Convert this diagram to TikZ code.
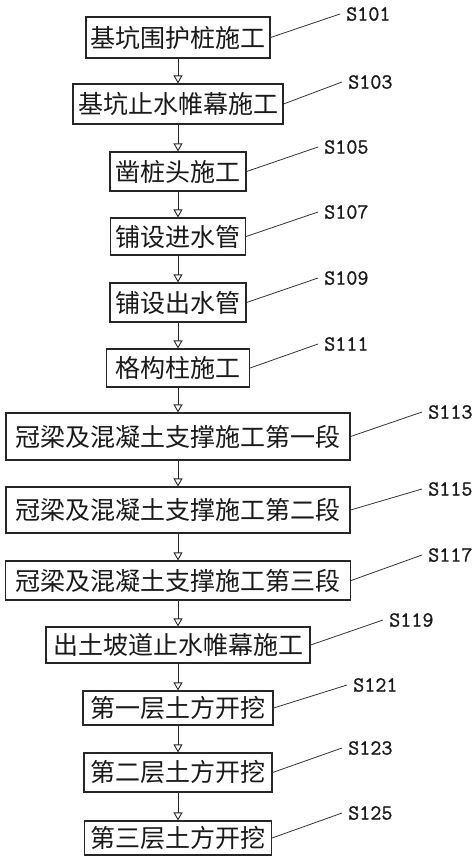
\documentclass[tikz,border=0pt]{standalone}
\usepackage{fontspec}
\newfontfamily\cjk{Noto Sans CJK SC}
\newfontfamily\lblfont[FakeBold=1]{Latin Modern Mono}
\usetikzlibrary{arrows.meta}
\begin{document}
\begin{tikzpicture}[x=1pt,y=-1pt,
 stepbox/.style={draw=black!85, line width=1.2pt, inner sep=0pt, text=black!90, font=\cjk\fontsize{25}{25}\selectfont, anchor=center},
 flow/.style={draw=black!85, line width=0.9pt, -{Triangle[open, width=9pt, length=8pt, line width=0.9pt]}},
 leader/.style={draw=black!80, line width=0.8pt},
 lbl/.style={anchor=west, inner sep=0pt, text=black!90, font=\lblfont\fontsize{21.5}{21.5}\selectfont, xshift=6pt}]
\useasboundingbox (0,0) rectangle (474,860);
\fill[white] (0,0) rectangle (474,860);
% boxes
\node[stepbox, minimum width=184pt, minimum height=41pt] (n1) at (178,37.5) {基坑围护桩施工};
\node[stepbox, minimum width=210pt, minimum height=40pt] (n2) at (178,104) {基坑止水帷幕施工};
\node[stepbox, minimum width=136pt, minimum height=39pt] (n3) at (178,171.5) {凿桩头施工};
\node[stepbox, minimum width=135pt, minimum height=37pt] (n4) at (178,236.5) {铺设进水管};
\node[stepbox, minimum width=136pt, minimum height=39pt] (n5) at (178,302.5) {铺设出水管};
\node[stepbox, minimum width=143pt, minimum height=38pt] (n6) at (178,368) {格构柱施工};
\node[stepbox, minimum width=344pt, minimum height=47pt] (n7) at (178,436.5) {冠梁及混凝土支撑施工第一段};
\node[stepbox, minimum width=344pt, minimum height=46pt] (n8) at (178,510) {冠梁及混凝土支撑施工第二段};
\node[stepbox, minimum width=345pt, minimum height=39pt] (n9) at (178,580.5) {冠梁及混凝土支撑施工第三段};
\node[stepbox, minimum width=264pt, minimum height=36pt] (n10) at (178,645) {出土坡道止水帷幕施工};
\node[stepbox, minimum width=190pt, minimum height=34pt] (n11) at (178,708) {第一层土方开挖};
\node[stepbox, minimum width=188pt, minimum height=39pt] (n12) at (178,772.5) {第二层土方开挖};
\node[stepbox, minimum width=187pt, minimum height=34pt] (n13) at (178,838) {第三层土方开挖};
% arrows
\foreach \a/\b in {n1/n2,n2/n3,n3/n4,n4/n5,n5/n6,n6/n7,n7/n8,n8/n9,n9/n10,n10/n11,n11/n12,n12/n13}
  \draw[flow] (\a.south) -- (\b.north);
% leader end points
\coordinate (e1) at (340,14);
\coordinate (e2) at (342,82);
\coordinate (e3) at (318,147);
\coordinate (e4) at (318,212);
\coordinate (e5) at (318,278);
\coordinate (e6) at (318,344);
\coordinate (e7) at (422,412);
\coordinate (e8) at (422,489);
\coordinate (e9) at (422,555);
\coordinate (e10) at (383,620);
\coordinate (e11) at (347,685);
\coordinate (e12) at (342,748);
\coordinate (e13) at (342,813);
% labels
\node[lbl] (l1) at (e1) {S101};
\node[lbl] (l2) at (e2) {S103};
\node[lbl] (l3) at (e3) {S105};
\node[lbl] (l4) at (e4) {S107};
\node[lbl] (l5) at (e5) {S109};
\node[lbl] (l6) at (e6) {S111};
\node[lbl] (l7) at (e7) {S113};
\node[lbl] (l8) at (e8) {S115};
\node[lbl] (l9) at (e9) {S117};
\node[lbl] (l10) at (e10) {S119};
\node[lbl] (l11) at (e11) {S121};
\node[lbl] (l12) at (e12) {S123};
\node[lbl] (l13) at (e13) {S125};
% leaders
\foreach \i in {1,...,13}
  \draw[leader] (n\i.east) -- (e\i);
\end{tikzpicture}
\end{document}
